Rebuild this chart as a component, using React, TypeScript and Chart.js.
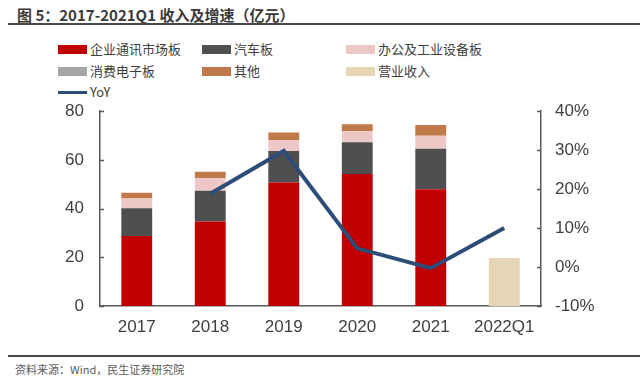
import React, { useEffect, useRef } from "react";
import { Chart, registerables } from "chart.js";

Chart.register(...registerables);

const categories = ["2017", "2018", "2019", "2020", "2021", "2022Q1"];
const enterpriseComm = [28.7, 34.7, 50.7, 54.2, 47.9, null];
const automotive = [11.4, 12.6, 13.0, 13.0, 16.7, null];
const officeIndustrial = [4.0, 5.2, 4.5, 4.6, 5.3, null];
const consumerElec = [0, 0, 0, 0, 0, null];
const others = [2.4, 2.6, 3.1, 2.8, 4.4, null];
const revenue = [null, null, null, null, null, 19.7];
const yoy = [null, 18.8, 29.8, 4.8, -0.3, 10.0];

const leftTicks = { min: 0, max: 80, step: 20 };
const rightTicks = { min: -10, max: 40, step: 10 };

const C_RED = "#C00000";
const C_DARK = "#4F4F4F";
const C_PINK = "#EEC7C7";
const C_GRAY = "#A6A6A6";
const C_ORANGE = "#C0794A";
const C_TAN = "#E6D6B5";
const C_LINE = "#2C4D77";
const AXIS = "#595959";
const TEXT = "#404040";

const legendItems = [
  { label: "企业通讯市场板", color: C_RED, type: "box" },
  { label: "汽车板", color: C_DARK, type: "box" },
  { label: "办公及工业设备板", color: C_PINK, type: "box" },
  { label: "消费电子板", color: C_GRAY, type: "box" },
  { label: "其他", color: C_ORANGE, type: "box" },
  { label: "营业收入", color: C_TAN, type: "box" },
  { label: "YoY", color: C_LINE, type: "line" },
];

const innerTicks = {
  id: "innerTicks",
  afterDraw(chart: any) {
    const ctx = chart.ctx;
    const area = chart.chartArea;
    ctx.save();
    ctx.strokeStyle = AXIS;
    ctx.lineWidth = 1.5;
    const y = chart.scales.y;
    y.ticks.forEach((t: any) => {
      const py = Math.round(y.getPixelForValue(t.value)) + 0.5;
      ctx.beginPath();
      ctx.moveTo(area.left, py);
      ctx.lineTo(area.left + 4, py);
      ctx.stroke();
    });
    const y1 = chart.scales.y1;
    y1.ticks.forEach((t: any) => {
      const py = Math.round(y1.getPixelForValue(t.value)) + 0.5;
      ctx.beginPath();
      ctx.moveTo(area.right - 4, py);
      ctx.lineTo(area.right, py);
      ctx.stroke();
    });
    ctx.restore();
  },
};

export default function App() {
  const ref = useRef<HTMLCanvasElement | null>(null);

  useEffect(() => {
    document.body.style.margin = "0";
    if (!ref.current) return;
    const barCommon = {
      type: "bar" as const,
      stack: "s",
      yAxisID: "y",
      order: 1,
      categoryPercentage: 1,
      barPercentage: 0.42,
      borderWidth: 0,
    };
    const tickFont = { size: 17, family: '"Liberation Sans", Arial, sans-serif' };
    const chart = new Chart(ref.current, {
      type: "bar",
      data: {
        labels: categories,
        datasets: [
          { ...barCommon, label: "企业通讯市场板", data: enterpriseComm, backgroundColor: C_RED },
          { ...barCommon, label: "汽车板", data: automotive, backgroundColor: C_DARK },
          { ...barCommon, label: "消费电子板", data: consumerElec, backgroundColor: C_GRAY },
          { ...barCommon, label: "办公及工业设备板", data: officeIndustrial, backgroundColor: C_PINK },
          { ...barCommon, label: "其他", data: others, backgroundColor: C_ORANGE },
          { ...barCommon, label: "营业收入", data: revenue, backgroundColor: C_TAN },
          {
            type: "line" as const,
            label: "YoY",
            data: yoy,
            yAxisID: "y1",
            order: 0,
            borderColor: C_LINE,
            borderWidth: 4,
            pointRadius: 0,
            tension: 0,
            fill: false,
          } as any,
        ],
      },
      options: {
        responsive: false,
        maintainAspectRatio: false,
        animation: false,
        layout: { padding: { top: 10, left: 0, right: 0, bottom: 0 } },
        plugins: { legend: { display: false }, tooltip: { enabled: false } },
        scales: {
          x: {
            stacked: true,
            grid: { display: false, drawTicks: false },
            border: { display: true, color: AXIS, width: 1.5 },
            ticks: { color: TEXT, padding: 11, font: tickFont, maxRotation: 0 },
            afterFit: (s: any) => {
              s.height = 34;
            },
          },
          y: {
            stacked: true,
            position: "left",
            min: leftTicks.min,
            max: leftTicks.max,
            grid: { display: false, drawTicks: false },
            border: { display: true, color: AXIS, width: 1.5 },
            ticks: { stepSize: leftTicks.step, color: TEXT, padding: 16, font: tickFont },
            afterFit: (s: any) => {
              s.width = 100;
            },
          },
          y1: {
            position: "right",
            min: rightTicks.min,
            max: rightTicks.max,
            grid: { display: false, drawTicks: false },
            border: { display: true, color: AXIS, width: 1.5 },
            ticks: {
              stepSize: rightTicks.step,
              color: TEXT,
              padding: 14,
              font: tickFont,
              callback: (v: any) => v + "%",
            },
            afterFit: (s: any) => {
              s.width = 99;
            },
          },
        },
      } as any,
      plugins: [innerTicks],
    });
    return () => chart.destroy();
  }, []);

  const cjk = '"Noto Sans CJK SC", sans-serif';
  const colX = [58, 202, 346];
  const rowY = [49, 71, 92];

  return (
    <div
      style={{
        position: "relative",
        width: 640,
        height: 387,
        overflow: "hidden",
        background: "#fff",
        fontFamily: cjk,
      }}
    >
      <div
        style={{
          position: "absolute",
          left: 17,
          top: 5,
          fontSize: 15,
          fontWeight: 700,
          color: "#3a3a3a",
          fontFamily: cjk,
          whiteSpace: "nowrap",
          lineHeight: "20px",
        }}
      >
        图 5：2017-2021Q1 收入及增速（亿元）
      </div>
      <div
        style={{
          position: "absolute",
          left: 8,
          top: 23,
          width: 632,
          height: 2,
          background: "#4a4a4a",
        }}
      />
      {legendItems.map((it, i) => {
        const col = i % 3;
        const row = Math.floor(i / 3);
        return (
          <div
            key={it.label}
            style={{
              position: "absolute",
              left: colX[col],
              top: rowY[row] - 10,
              height: 20,
              display: "flex",
              alignItems: "center",
              whiteSpace: "nowrap",
            }}
          >
            <span
              style={{
                display: "inline-block",
                width: 29,
                height: it.type === "line" ? 3 : 9,
                background: it.color,
                marginRight: 3,
              }}
            />
            <span style={{ fontSize: 13, color: TEXT, fontFamily: cjk, lineHeight: "20px" }}>
              {it.label}
            </span>
          </div>
        );
      })}
      <canvas
        ref={ref}
        width={640}
        height={255}
        style={{ position: "absolute", left: 0, top: 85, width: 640, height: 255 }}
      />
      <div
        style={{
          position: "absolute",
          left: 8,
          top: 355,
          width: 632,
          height: 2,
          background: "#4a4a4a",
        }}
      />
      <div
        style={{
          position: "absolute",
          left: 15,
          top: 360,
          fontSize: 11,
          color: "#595959",
          fontFamily: cjk,
          whiteSpace: "nowrap",
          lineHeight: "18px",
        }}
      >
        资料来源：Wind，民生证券研究院
      </div>
    </div>
  );
}
